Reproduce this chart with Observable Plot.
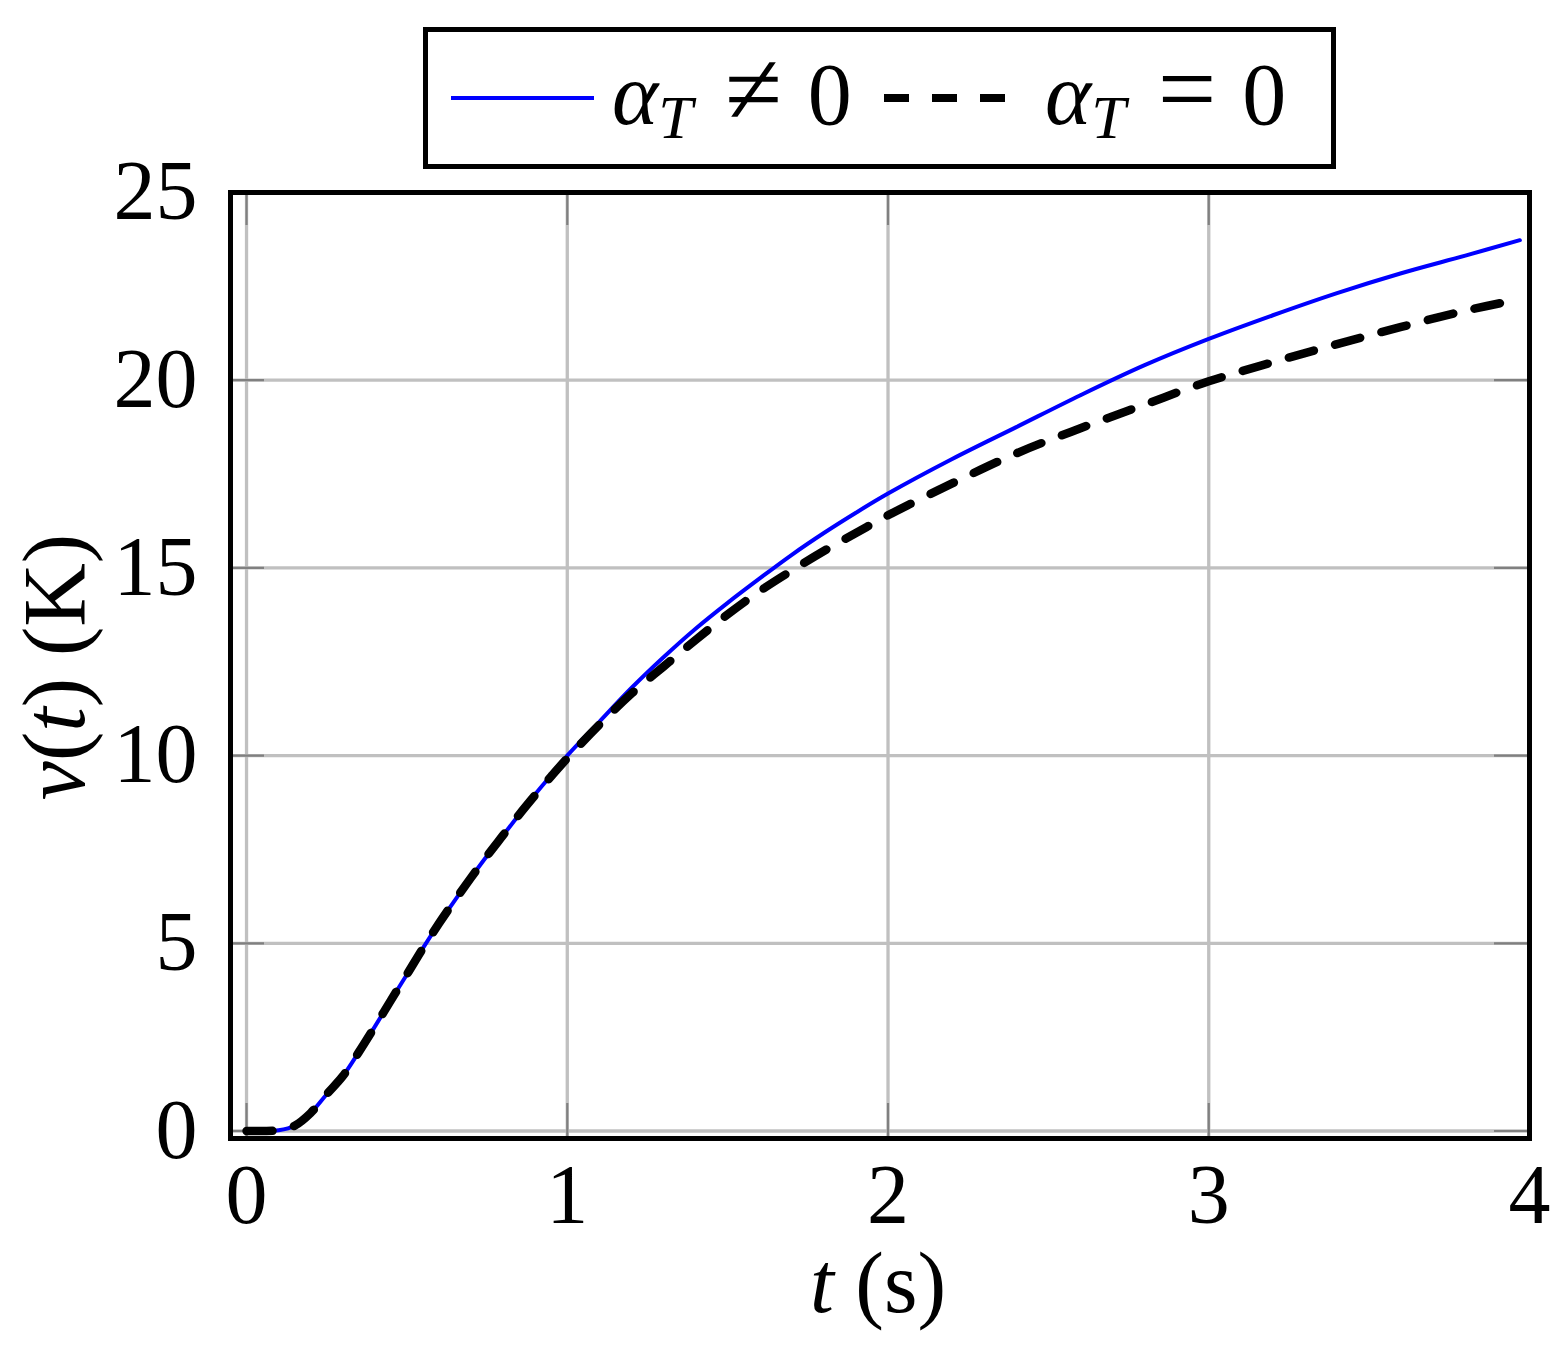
<!DOCTYPE html>
<html>
<head>
<meta charset="utf-8">
<script src="https://cdn.jsdelivr.net/npm/d3@7"></script>
<script src="https://cdn.jsdelivr.net/npm/@observablehq/plot@0.6"></script>
<style>
html, body { margin: 0; padding: 0; background: #fff; }
#wrap { position: relative; width: 1563px; height: 1353px; font-family: "Liberation Serif", "Times New Roman", serif; }
#chart { position: absolute; left: 0; top: 0; }
#legendBox { position: absolute; left: 423px; top: 27px; width: 903px; height: 132px; border: 5px solid #000; background: #fff; }
#overlay { position: absolute; left: 0; top: 0; pointer-events: none; }
</style>
</head>
<body>
<div id="wrap">
  <div id="chart"></div>
  <div id="legendBox"></div>
  <svg id="overlay" width="1563" height="1353" font-family="Liberation Serif, Times New Roman, serif"></svg>
</div>
<script>
// ---- data ----
const seriesNames = ["α_T ≠ 0", "α_T = 0"];
const tBlue = [0, 0.05, 0.1, 0.15, 0.2, 0.25, 0.3, 0.35, 0.4, 0.45, 0.5, 0.55, 0.6, 0.65, 0.7, 0.75, 0.8, 0.85, 0.9, 0.95, 1.0,
  1.1, 1.2, 1.3, 1.4, 1.5, 1.6, 1.7, 1.8, 1.9, 2.0, 2.2, 2.4, 2.6, 2.8, 3.0, 3.2, 3.4, 3.6, 3.8, 3.97];
const vBlue = [0, 0, 0.02, 0.14, 0.48, 0.98, 1.46, 2.1, 2.78, 3.48, 4.17, 4.87, 5.53, 6.15, 6.75, 7.33, 7.88, 8.43, 8.97, 9.48, 10.0,
  10.9, 11.8, 12.62, 13.38, 14.07, 14.72, 15.35, 15.93, 16.47, 16.98, 17.9, 18.75, 19.6, 20.4, 21.1, 21.73, 22.32, 22.85, 23.32, 23.73];
const tDash = [0, 0.05, 0.1, 0.15, 0.2, 0.25, 0.3, 0.35, 0.4, 0.45, 0.5, 0.55, 0.6, 0.65, 0.7, 0.75, 0.8, 0.85, 0.9, 0.95, 1.0,
  1.1, 1.2, 1.3, 1.4, 1.5, 1.6, 1.7, 1.8, 1.9, 2.0, 2.2, 2.4, 2.6, 2.8, 3.0, 3.2, 3.4, 3.6, 3.8, 3.97];
const vDash = [0, 0, 0.02, 0.14, 0.48, 0.98, 1.46, 2.1, 2.78, 3.48, 4.17, 4.87, 5.53, 6.15, 6.75, 7.33, 7.88, 8.43, 8.95, 9.45, 9.93,
  10.82, 11.65, 12.37, 13.08, 13.76, 14.38, 14.93, 15.45, 15.93, 16.4, 17.25, 18.05, 18.72, 19.35, 19.97, 20.48, 20.96, 21.42, 21.85, 22.16];
const xTicks = [0, 1, 2, 3, 4];
const yTicks = [0, 5, 10, 15, 20, 25];

const blue = tBlue.map((t, i) => ({t, v: vBlue[i]}));
const dash = tDash.map((t, i) => ({t, v: vDash[i]}));

const W = 1563, H = 1353, mL = 230, mR = 34, mT = 192, mB = 215;
const innerW = W - mL - mR, innerH = H - mT - mB;
const font = "Liberation Serif, Times New Roman, serif";

const chart = Plot.plot({
  width: W, height: H,
  marginLeft: mL, marginRight: mR, marginTop: mT, marginBottom: mB,
  style: {fontFamily: font, fontSize: "84px", background: "#fff", color: "#000"},
  x: {domain: [-0.05, 4]},
  y: {domain: [-0.2, 25]},
  marks: [
    Plot.ruleX(xTicks, {x: d => d, stroke: "#c0c0c0", strokeWidth: 3.3}),
    Plot.ruleY(yTicks, {y: d => d, stroke: "#c0c0c0", strokeWidth: 3.3}),
    Plot.tickX(xTicks, {x: d => d, stroke: "#808080", strokeWidth: 2.2, insetTop: innerH - 35}),
    Plot.tickX(xTicks, {x: d => d, stroke: "#808080", strokeWidth: 2.2, insetBottom: innerH - 33}),
    Plot.tickY(yTicks, {y: d => d, stroke: "#808080", strokeWidth: 2.2, insetRight: innerW - 34}),
    Plot.tickY(yTicks, {y: d => d, stroke: "#808080", strokeWidth: 2.2, insetLeft: innerW - 35}),
    Plot.line(blue, {x: "t", y: "v", stroke: "#0000ff", strokeWidth: 4, curve: "catmull-rom"}),
    Plot.line(dash, {x: "t", y: "v", stroke: "#000", strokeWidth: 8.5, strokeDasharray: "26,22", curve: "catmull-rom"}),
    Plot.axisX(xTicks, {anchor: "bottom", tickSize: 0, tickPadding: 25, fontSize: 84, label: null, tickFormat: d => String(d)}),
    Plot.axisY(yTicks, {anchor: "left", tickSize: 0, tickPadding: 33, fontSize: 84, label: null, tickFormat: d => String(d)}),
    Plot.frame({stroke: "#000", strokeWidth: 5})
  ]
});
document.getElementById("chart").appendChild(chart);

// ---- overlay: axis labels and legend ----
const ov = d3.select("#overlay");
// x label
const xl = ov.append("text").attr("x", 878).attr("y", 1312).attr("text-anchor", "middle").attr("font-size", 86);
xl.append("tspan").attr("font-style", "italic").text("t");
xl.append("tspan").text(" (s)");
// y label
const yl = ov.append("text").attr("transform", "translate(84,667) rotate(-90)").attr("text-anchor", "middle").attr("font-size", 88);
yl.append("tspan").attr("font-style", "italic").text("v");
yl.append("tspan").text("(");
yl.append("tspan").attr("font-style", "italic").text("t");
yl.append("tspan").text(") (K)");

// legend samples
ov.append("line").attr("x1", 451).attr("x2", 594).attr("y1", 98).attr("y2", 98)
  .attr("stroke", "#0000ff").attr("stroke-width", 4);
ov.append("line").attr("x1", 884).attr("x2", 1008).attr("y1", 98).attr("y2", 98)
  .attr("stroke", "#000").attr("stroke-width", 8).attr("stroke-dasharray", "25,23");

function legendText(x, rel) {
  const t = ov.append("text").attr("x", x).attr("y", 124).attr("font-size", 88);
  t.append("tspan").attr("font-style", "italic").text("α");
  t.append("tspan").attr("font-style", "italic").attr("font-size", 62).attr("dy", 14).text("T");
  t.append("tspan").attr("dy", -14).attr("dx", 32).attr("font-size", 104).text(rel);
  t.append("tspan").attr("dx", 26).text("0");
}
legendText(612, "≠");
legendText(1045, "=");
</script>
</body>
</html>
